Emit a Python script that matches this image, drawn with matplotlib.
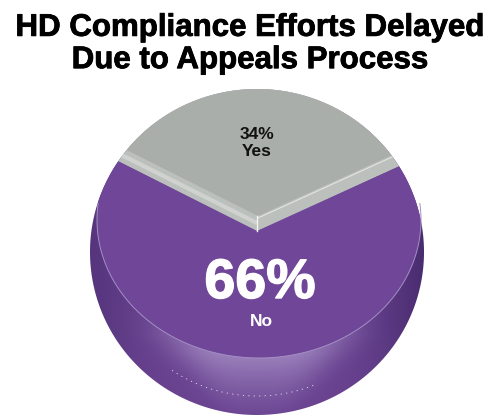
import numpy as np
import matplotlib
matplotlib.use('Agg')
from matplotlib import pyplot as plt
from matplotlib.path import Path
from matplotlib.transforms import Affine2D
import matplotlib.patheffects as pe

title = 'HD Compliance Efforts Delayed\nDue to Appeals Process'
labels = ['Yes', 'No']
values = [34, 66]
colors_top = ['#a9aeaa', 'none']
colors_base = ['#bcc0bc', '#6f4698']

def ellipse(cx, cy, rx, ry, t0=0, t1=2*np.pi, n=400):
    t = np.linspace(t0, t1, n)
    return cx + rx*np.cos(t), cy + ry*np.sin(t)

fig = plt.figure(figsize=(5, 4.17), dpi=100)
ax = fig.add_axes([0, 0, 1, 1])

# outer body of the pie and its top face
ox, oy = ellipse(257, 252, 167, 163)
outer = Path(np.column_stack([ox, oy]), closed=True)

# top face cut by the outer outline
t = np.linspace(0, 2*np.pi, 600)
r1 = 1/np.sqrt((np.cos(t)/167)**2 + (np.sin(t)/163)**2)
dx, dy = 257-259, 252-220
a = (np.cos(t)/162)**2 + (np.sin(t)/138)**2
b = 2*(dx*np.cos(t)/162**2 + dy*np.sin(t)/138**2)
c = (dx/162)**2 + (dy/138)**2 - 1
r2 = (-b + np.sqrt(b*b - 4*a*c))/(2*a)
r = np.minimum(r1, r2)
top_face = Path(np.column_stack([257 + r*np.cos(t), 252 + r*np.sin(t)]), closed=True)

# rim shading
X, Y = np.meshgrid(np.arange(500)+.5, np.arange(417)+.5)
base = np.array([0x6a, 0x43, 0x91])/255
dark = np.array([0x45, 0x29, 0x6c])/255
light = np.array([0xa8, 0x92, 0xc8])/255
d = np.clip((X-257)/167, -1, 1)
edge = np.clip((np.abs(d)-.3)/.7, 0, 1)**2
edge = edge*np.where(d > 0, .9, .55)
lower = np.clip((Y-330)/85, 0, 1)
edge = edge*(1 - .5*lower)
w = 92 - 55*np.clip((Y-335)/75, 0, 1)
glow = np.exp(-((X-257)/w)**4)*np.clip(1.05-(Y-350)/70, 0, 1)**1.3*.8
img = base[None, None, :]*(1-edge[..., None]) + dark[None, None, :]*edge[..., None]
img = img*(1-glow[..., None]) + light[None, None, :]*glow[..., None]
body = ax.imshow(img, extent=(0, 500, 417, 0), aspect='auto', zorder=1)
body.set_clip_path(outer, ax.transData)

# faint dashed sparkle on the rim
sx, sy = ellipse(257, 250, 150, 146, np.radians(68), np.radians(125), 120)
ax.plot(sx, sy, color='white', lw=.6, ls=(0, (1.5, 5)), alpha=.8, zorder=1.5)

# same values drawn twice: base level and raised grey slice
squash = .87
start = 27.6
base_wedges, _ = ax.pie(values, colors=colors_base, startangle=start, radius=420,
                        wedgeprops={'linewidth': 0, 'zorder': 2})
top_wedges, _ = ax.pie(values, colors=colors_top, startangle=start, radius=420,
                       wedgeprops={'linewidth': 0, 'zorder': 3})
low = Affine2D().scale(1, -squash).translate(257, 231) + ax.transData
high = Affine2D().scale(1, -squash).translate(258, 216) + ax.transData
for w_ in base_wedges:
    w_.set_transform(low)
    w_.set_clip_on(True)
base_wedges[0].set_clip_path(outer, ax.transData)
base_wedges[1].set_clip_path(top_face, ax.transData)
for w_ in top_wedges:
    w_.set_transform(high)
    w_.set_clip_on(True)
    w_.set_clip_path(outer, ax.transData)

# thin light line round the top face (lower part only)
fx, fy = ellipse(259, 220, 162, 138, -0.12, np.pi+0.12)
ax.plot(fx, fy, color='#a48fc4', lw=.7, zorder=2.5)

# bevel highlights along the slice edges
th1 = top_wedges[0].theta1
th2 = top_wedges[0].theta2
rr = np.array([0, 165])
ang = np.radians(th1)
l1, = ax.plot(258 + rr*np.cos(ang), 216 - rr*np.sin(ang)*squash + 2, color='#e2e4e1', lw=.8,
              zorder=3.5, solid_capstyle='butt')
ang = np.radians(th2)
l2, = ax.plot(257 + rr*np.cos(ang), 216 - rr*np.sin(ang)*squash + 7, color='#cfd2ce', lw=3,
              zorder=2.8, solid_capstyle='butt')
l1.set_clip_path(outer, ax.transData)
l2.set_clip_path(outer, ax.transData)
ax.plot([257, 257], [216, 231], color='#f4f5f3', lw=1, zorder=4)

ax.set_aspect('auto')
ax.set_xlim(0, 500)
ax.set_ylim(417, 0)
ax.axis('off')

sans = 'Liberation Sans'
heavy = [pe.withStroke(linewidth=.6, foreground='black')]
ax.text(250, 44, title, ha='center', va='center', fontsize=22.5, fontweight='bold',
        family=sans, color='black', linespacing=1.1, zorder=6, path_effects=heavy)
ax.text(257, 143, f'{values[0]}%\n{labels[0]}', ha='center', va='center', fontsize=12.5,
        fontweight='bold', family=sans, color='#111111', linespacing=1.1, zorder=6)
ax.text(260, 284, f'{values[1]}%', ha='center', va='center', fontsize=40,
        fontweight='bold', family=sans, color='white', zorder=6,
        path_effects=[pe.withStroke(linewidth=1, foreground='white')])
ax.text(261, 322, labels[1], ha='center', va='center', fontsize=12.5,
        fontweight='bold', family=sans, color='white', zorder=6)

fig.savefig('out.png', dpi=100)
